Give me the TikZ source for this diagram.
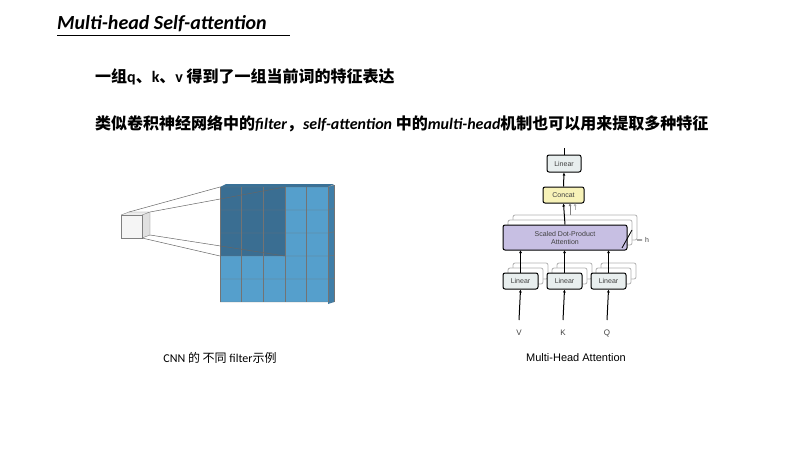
\documentclass[tikz,border=0pt]{standalone}
\usepackage{fontspec}
\setmainfont{Carlito}
\newfontfamily\cjk{Noto Sans CJK SC}
\newfontfamily\hel{Liberation Sans}
\usetikzlibrary{arrows.meta}
\definecolor{cdark}{HTML}{3A6E92}
\definecolor{clight}{HTML}{559FCC}
\definecolor{cside}{HTML}{3F7EA8}
\definecolor{purp}{HTML}{C7BFE3}
\definecolor{lin}{HTML}{E8EEEE}
\definecolor{conc}{HTML}{F7F2B8}
\tikzset{
 blk/.style={draw=black,line width=1pt,rounded corners=2pt,inner sep=0pt,font=\hel\fontsize{7}{8}\selectfont,text=black!75},
 ghost/.style={draw=black!30,fill=white,rounded corners=2pt,line width=0.8pt},
 arr/.style={-{Latex[length=3pt,width=3pt]},line width=1pt},
 cell/.style={draw=black!55,line width=0.4pt}
}
\begin{document}
\begin{tikzpicture}[x=1pt,y=-1pt]
\useasboundingbox (0,0) rectangle (800,450);
% title
\node[anchor=base west,inner sep=0pt,font=\bfseries\itshape\fontsize{20}{22}\selectfont] (title) at (57,29) {Multi-head Self-attention};
\draw[line width=0.8pt] (57,35) -- (290,35);
\node[anchor=base west,inner sep=0pt,font=\fontsize{16}{18}\selectfont\bfseries] (l1) at (95,82) {{\cjk\bfseries 一组}q{\cjk\bfseries 、}k{\cjk\bfseries 、}v {\cjk\bfseries 得到了一组当前词的特征表达}};
\node[anchor=base west,inner sep=0pt,font=\fontsize{16}{18}\selectfont\bfseries] (l2) at (95,129) {{\cjk\bfseries 类似卷积神经网络中的}\textit{filter}{\cjk\bfseries ，}\textit{self-attention} {\cjk\bfseries 中的}\textit{multi-head}{\cjk\bfseries 机制也可以用来提取多种特征}};
% CNN
\def\gx{220}\def\gy{187}\def\cw{21.6}\def\ch{23}
\fill[cside] (328,187) -- (334,185) -- (334,302) -- (328,304) -- cycle;
\fill[cside!90!black] (220,187) -- (226,184) -- (334,184) -- (328,187) -- cycle;
\fill[clight] (220,187) rectangle (328,302);
\fill[cdark] (220,187) rectangle (284.8,256);
\foreach \i in {0,...,5}{\draw[cell] (220+\i*21.6,187) -- (220+\i*21.6,302);}
\foreach \j in {0,...,5}{\draw[cell] (220,187+\j*23) -- (328,187+\j*23) -- (334,185+\j*23.4);}
\draw[cell] (334,185) -- (334,302);
% small cube
\fill[black!12] (142,215) -- (150,212) -- (150,235) -- (142,238) -- cycle;
\fill[black!7] (121,215) -- (129,212) -- (150,212) -- (142,215) -- cycle;
\node[draw=black!50,fill=black!4,minimum width=21pt,minimum height=23pt,inner sep=0pt,line width=0.4pt] (cube) at (131.5,226.5) {};
\draw[black!50,line width=0.4pt] (121,215) -- (129,212) -- (150,212) -- (150,235) -- (142,238) (142,215)--(150,212);
\draw[black!60,line width=0.5pt] (129,212) -- (220,187) (150,212) -- (284.8,187) (142,238) -- (220,256) (150,235) -- (284.8,256);
\node[font=\fontsize{12}{14}\selectfont] (cap1) at (220,358) {CNN {\cjk 的 不同} filter{\cjk 示例}};
% attention
\foreach \o in {10,5}{
 \draw[ghost] (503+\o,225-\o) rectangle (627+\o,250-\o);
 \foreach \x in {503,547,591}{\draw[ghost] (\x+\o,273-\o) rectangle (\x+35+\o,289-\o);}
}
\node[blk,fill=purp,minimum width=124pt,minimum height=25pt,align=center] (sdpa) at (565,237.5) {Scaled Dot-Product\\Attention};
\node[blk,fill=lin,minimum width=35pt,minimum height=16pt] (lv) at (520.5,281) {Linear};
\node[blk,fill=lin,minimum width=35pt,minimum height=16pt] (lk) at (564.5,281) {Linear};
\node[blk,fill=lin,minimum width=35pt,minimum height=16pt] (lq) at (608.5,281) {Linear};
\node[blk,fill=conc,minimum width=41pt,minimum height=16pt] (concat) at (563.5,195) {Concat};
\node[blk,fill=lin,minimum width=34pt,minimum height=17pt] (lout) at (564,163.5) {Linear};
\coordinate (top) at (564,148);
\node[font=\hel\fontsize{8}{9}\selectfont,text=black!75] (V) at (519,333) {V};
\node[font=\hel\fontsize{8}{9}\selectfont,text=black!75] (K) at (563,333) {K};
\node[font=\hel\fontsize{8}{9}\selectfont,text=black!75] (Q) at (607,333) {Q};
\node[font=\hel\fontsize{7}{8}\selectfont,text=black!75] (h) at (647,240) {h};
\draw[arr] (519,320) -- (lv.south);
\draw[arr] (563,320) -- (lk.south);
\draw[arr] (607,320) -- (lq.south);
\foreach \n/\x in {lv/520.5,lk/564.5,lq/608.5}{\draw[arr] (\n.north) -- (\x,250);}
\draw[arr] (sdpa.north) -- (concat.south);
\draw[arr,black!50] (570,215) -- (570,203);
\draw[arr,black!30] (575,210) -- (575,203);
\draw[arr] (concat.north) -- (lout.south);
\draw[line width=1pt] (lout.north) -- (top);
\draw[line width=0.8pt] (622,248) -- (632,230) (637,240) -- (642,240);
\node[font=\hel\fontsize{11}{13}\selectfont] (cap2) at (576,358) {Multi-Head Attention};
\end{tikzpicture}
\end{document}
